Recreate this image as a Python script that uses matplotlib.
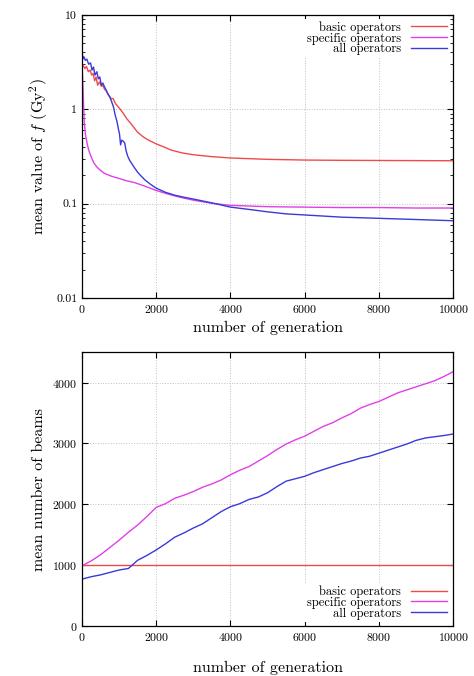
import matplotlib.pyplot as plt
from matplotlib.ticker import LogLocator, NullFormatter
import numpy as np

plt.rcParams['font.family'] = ['cmr10', 'DejaVu Serif']
plt.rcParams['mathtext.fontset'] = 'cm'
plt.rcParams['axes.formatter.use_mathtext'] = True

red = '#f04a4a'
magenta = '#e040e8'
blue = '#3a3ad8'
labels = ['basic operators', 'specific operators', 'all operators']

# --- top panel: mean value of f (log scale)
gen_basic_f = [0, 30, 80, 120, 170, 220, 260, 300, 340, 380, 420, 470, 520, 560, 600, 660,
               720, 780, 840, 900, 960, 1030, 1100, 1200, 1300, 1400, 1500, 1650, 1800,
               2000, 2200, 2400, 2700, 3000, 3500, 4000, 5000, 6000, 7000, 8000, 9000, 10000]
f_basic = [3.1, 2.9, 2.7, 2.85, 2.5, 2.6, 2.3, 2.4, 2.0, 2.2, 1.8, 1.95, 1.75, 1.8, 1.65, 1.55,
           1.4, 1.3, 1.3, 1.15, 1.08, 1.0, 0.92, 0.8, 0.72, 0.64, 0.57, 0.51, 0.47,
           0.43, 0.4, 0.37, 0.345, 0.33, 0.315, 0.305, 0.295, 0.29, 0.288, 0.287, 0.286, 0.285]

gen_spec_f = [0, 20, 40, 60, 90, 130, 180, 250, 320, 400, 500, 600, 800, 1000, 1200, 1400,
              1600, 1800, 2000, 2300, 2600, 3000, 3500, 4000, 5000, 6000, 7000, 8000, 9000, 10000]
f_spec = [3.0, 2.0, 1.2, 0.75, 0.55, 0.45, 0.37, 0.31, 0.27, 0.245, 0.225, 0.21, 0.195, 0.185,
          0.175, 0.168, 0.158, 0.148, 0.138, 0.127, 0.118, 0.109, 0.101, 0.096, 0.093, 0.092,
          0.091, 0.091, 0.09, 0.09]

gen_all_f = [0, 20, 50, 90, 130, 180, 230, 270, 310, 350, 400, 440, 480, 520, 560, 600, 650,
             700, 750, 800, 850, 900, 940, 980, 1010, 1040, 1070, 1110, 1150, 1190, 1230,
             1280, 1330, 1400, 1500, 1600, 1700, 1850, 2000, 2250, 2500, 2750, 3000, 3500,
             4000, 4500, 5000, 5500, 6000, 7000, 8000, 9000, 10000]
f_all = [4.4, 3.4, 3.6, 3.3, 3.4, 3.0, 3.1, 2.6, 2.8, 2.3, 2.5, 2.1, 2.2, 1.8, 1.9, 1.75, 1.6,
         1.45, 1.35, 1.2, 1.05, 0.85, 0.75, 0.62, 0.55, 0.42, 0.47, 0.46, 0.44, 0.36, 0.32,
         0.29, 0.27, 0.245, 0.215, 0.195, 0.178, 0.16, 0.146, 0.132, 0.123, 0.117, 0.112, 0.102,
         0.092, 0.087, 0.082, 0.078, 0.076, 0.072, 0.07, 0.068, 0.066]

# --- bottom panel: mean number of beams
gen_beams = [0, 250, 500, 750, 1000, 1250, 1500, 1750, 2000, 2250, 2500, 2750, 3000, 3250,
             3500, 3750, 4000, 4250, 4500, 4750, 5000, 5250, 5500, 5750, 6000, 6250, 6500,
             6750, 7000, 7250, 7500, 7750, 8000, 8250, 8500, 8750, 9000, 9250, 9500, 9750, 10000]
beams_basic = [1000] * len(gen_beams)
beams_spec = [990, 1070, 1170, 1290, 1410, 1540, 1660, 1800, 1950, 2010, 2100, 2150, 2210, 2280,
              2335, 2400, 2485, 2560, 2620, 2710, 2800, 2900, 2990, 3060, 3120, 3200, 3280,
              3340, 3420, 3490, 3580, 3640, 3690, 3760, 3830, 3880, 3930, 3980, 4030, 4100, 4180]
beams_all = [770, 810, 840, 880, 920, 945, 1080, 1160, 1250, 1350, 1460, 1530, 1610, 1680,
             1780, 1880, 1960, 2010, 2080, 2120, 2190, 2290, 2380, 2420, 2460, 2520, 2570,
             2620, 2670, 2710, 2760, 2790, 2840, 2890, 2940, 2990, 3050, 3090, 3110, 3130, 3155]

fig = plt.figure(figsize=(4.74, 6.76), dpi=100)
ax1 = fig.add_axes([0.173, 0.559, 0.783, 0.419])
ax2 = fig.add_axes([0.173, 0.074, 0.783, 0.405])

ax1.plot(gen_basic_f, f_basic, color=red, lw=1.0, label=labels[0])
ax1.plot(gen_spec_f, f_spec, color=magenta, lw=1.0, label=labels[1])
ax1.plot(gen_all_f, f_all, color=blue, lw=1.0, label=labels[2])
ax1.set_yscale('log')
ax1.set_ylim(0.01, 10)
ax1.set_yticks([0.01, 0.1, 1, 10])
ax1.set_yticklabels(['0.01', '0.1', '1', '10'])
ax1.yaxis.set_minor_locator(LogLocator(base=10, subs=[2, 3, 4, 5, 6, 7, 8, 9], numticks=20))
ax1.yaxis.set_minor_formatter(NullFormatter())
ax1.set_ylabel('mean value of $f$ (Gy$^2$)', fontsize=11.5)

ax2.plot(gen_beams, beams_basic, color=red, lw=1.0, label=labels[0])
ax2.plot(gen_beams, beams_spec, color=magenta, lw=1.0, label=labels[1])
ax2.plot(gen_beams, beams_all, color=blue, lw=1.0, label=labels[2])
ax2.set_ylim(0, 4500)
ax2.set_yticks([0, 1000, 2000, 3000, 4000])
ax2.set_ylabel('mean number of beams', fontsize=11.5)

for ax, loc in [(ax1, 'upper right'), (ax2, 'lower right')]:
    ax.set_xlim(0, 10000)
    ax.set_xticks(range(0, 10001, 2000))
    ax.grid(True, which='major', color='#c0c0c0', ls=':', lw=0.7)
    ax.tick_params(which='both', direction='in', top=True, right=True, labelsize=8.5)
    ax.tick_params(which='major', length=4.5, width=0.8)
    ax.tick_params(which='minor', length=2.5, width=0.6)
    for s in ax.spines.values():
        s.set_linewidth(0.9)
    leg = ax.legend(loc=loc, markerfirst=False, fontsize=9, handlelength=2.9,
                    labelspacing=-0.1, borderpad=0.2, borderaxespad=0.3, frameon=True,
                    fancybox=False, framealpha=1)
    leg.get_frame().set_edgecolor('none')

ax1.set_xlabel('number of generation', fontsize=11.5, labelpad=4)
ax2.set_xlabel('number of generation', fontsize=11.5, labelpad=13)

plt.savefig('out.png', dpi=100)
